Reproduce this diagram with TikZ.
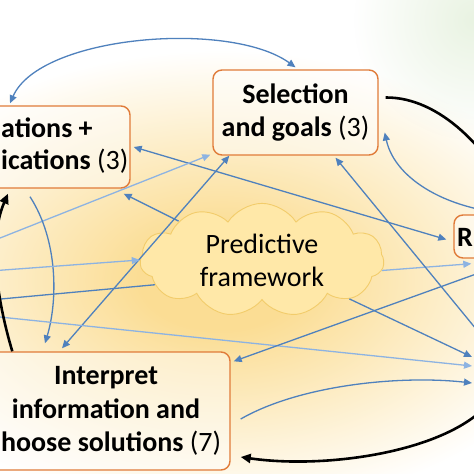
\documentclass[tikz,border=0pt]{standalone}
\usepackage{fontspec}
\setmainfont{Carlito}
\usetikzlibrary{arrows.meta}
\usetikzlibrary{shapes.symbols}
\usetikzlibrary{fadings}
\definecolor{boxline}{HTML}{E07B39}
\definecolor{linkblue}{HTML}{4F81BD}
\definecolor{linklight}{HTML}{8DB3E2}
\definecolor{cloudfill}{HTML}{FFE8A8}
\definecolor{cloudline}{HTML}{F2CC6B}
\definecolor{bgyellow}{HTML}{FBDD94}
\definecolor{bggreen}{HTML}{E9F3E2}
\pgfdeclareradialshading{bgglow}{\pgfpoint{0bp}{0bp}}{color(0bp)=(bgyellow);color(5bp)=(bgyellow);color(23bp)=(white);color(50bp)=(white)}
\tikzfading[name=glowfade,inner color=transparent!0,outer color=transparent!100]

\begin{document}
\begin{tikzpicture}[x=1pt,y=-1pt,>={Triangle[length=8pt,width=7pt]},
    box/.style={draw=boxline,line width=1.4pt,rounded corners=9pt,fill=white,fill opacity=0.45,text opacity=1,font=\fontsize{28}{33.5}\selectfont\bfseries,align=center},
    boxtext/.style={font=\fontsize{28}{33.5}\selectfont\bfseries,inner sep=0pt},
    link/.style={draw=linkblue,line width=1.3pt},
    faint/.style={draw=linklight,line width=1.3pt},
    flow/.style={draw=black,line width=2.6pt,>={Triangle[length=10pt,width=9pt]}}]
                \useasboundingbox (0,0) rectangle (474,474);
                \clip (0,0) rectangle (474,474);
                \fill[white] (0,0) rectangle (474,474);
                \shade[shading=bgglow] (220,280) ellipse (400 and 250);
                \fill[bggreen,path fading=glowfade] (474,20) circle (120);
                \node[cloud,cloud puffs=11,cloud puff arc=115,aspect=2.1,draw=cloudline,fill=cloudfill,line width=0.9pt,minimum width=244pt,minimum height=112pt,font=\fontsize{28}{33}\selectfont,align=center] (pf) at (262,260) {Predictive\\framework};
                \node[box,minimum width=165pt,minimum height=85pt] (sel) at (295.5,112.5) {Selection\\and goals {\mdseries(3)}};
                \node[box,minimum width=240pt,minimum height=82pt] (obs) at (10,147) {};
                \node[boxtext,anchor=base west] (obs1) at (1,137) {ations +};
                \node[boxtext,anchor=base west] (obs2) at (1,169) {ications {\mdseries(3)}};
                \node[box,minimum width=132pt,minimum height=43pt] (res) at (520,236.5) {};
                \node[boxtext,anchor=base east] (res1) at (473,246) {R};
                \node[box,minimum width=248pt,minimum height=118pt] (intp) at (106,411) {Interpret\\information and\\\hspace*{10pt}hoose solutions {\mdseries(7)}};
                \coordinate (lftA) at (-10,242);
                \coordinate (lftB) at (-10,271);
                \coordinate (lftC) at (-10,300);
                \coordinate (lftD) at (-10,316);
                \coordinate (rgtA) at (490,346);
                \coordinate (rgtB) at (490,269);
                \coordinate (hidI) at (472,366);
                \coordinate (hidN) at (472,357);
                \coordinate (hidO) at (472,383);
                \coordinate (hidK) at (495,395);
                \draw[link,<->] ([yshift=2pt]obs.north) .. controls (40,35) and (230,20) .. ([yshift=2pt]sel.north);
                \draw[link,<->] ([xshift=3pt]obs.east) -- ([xshift=-7pt,yshift=-3pt]res.west);
                \draw[link,->] (pf.155) -- ([xshift=-7pt,yshift=-5pt]obs.south east);
                \draw[faint,->] (lftA) -- ([xshift=-2pt,yshift=1pt]sel.south west);
                \draw[link,<->] ([xshift=-44pt,yshift=3pt]intp.north) -- ([xshift=17pt]sel.south west);
                \draw[link,->] ([xshift=20pt,yshift=-8pt]obs.south) .. controls (58,240) and (58,300) .. ([xshift=-61pt,yshift=8pt]intp.north);
                \draw[faint,->] (lftB) -- (pf.west);
                \draw[link,->] (pf.193) -- (lftC);
                \draw[faint,->] (lftD) -- (hidI);
                \draw[link,->] (rgtB) -- ([xshift=3pt,yshift=-10pt]intp.north east);
                \draw[faint,->] (pf.355) -- ([xshift=18pt,yshift=-5pt]res.south west);
                \draw[link,->] (rgtA) -- ([xshift=40pt,yshift=-2pt]sel.south);
                \draw[link,->] (res.north) .. controls (450,212) and (395,180) .. ([xshift=6pt,yshift=-20pt]sel.east);
                \draw[link,->] (pf.336) -- (hidN);
                \draw[link,->] ([xshift=10pt,yshift=-8pt]intp.east) .. controls (300,385) and (400,375) .. (hidO);
                \draw[flow,->] ([xshift=7pt,yshift=15pt]sel.east) .. controls (440,97) and (490,150) .. (res.north);
                \draw[flow,->] (hidK) .. controls (460,450) and (330,470) .. ([xshift=10pt,yshift=-46pt]intp.east);
                \draw[flow,->] ([xshift=31pt]intp.north west) .. controls (-3,300) and (-12,240) .. ([xshift=-2pt,yshift=-5pt]obs.south);
            \end{tikzpicture}
\end{document}
